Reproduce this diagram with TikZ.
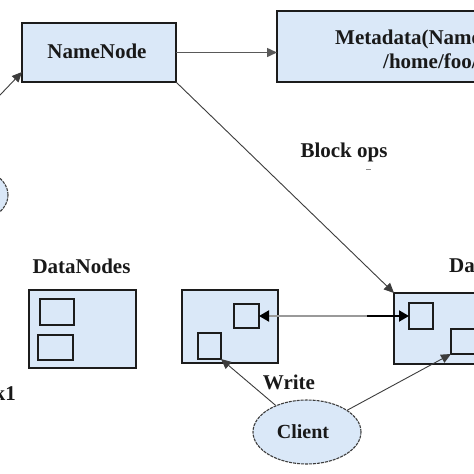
\documentclass[tikz,border=0pt]{standalone}
\usepackage{fontspec}
\setmainfont{Liberation Serif}
\usetikzlibrary{arrows.meta,shapes.geometric}
\definecolor{boxfill}{HTML}{DAE8F8}
\definecolor{edgec}{HTML}{1C1C1C}
\definecolor{linec}{HTML}{3C3C3C}
\tikzset{
  box/.style={draw=edgec, line width=1.6pt, fill=boxfill, inner sep=0pt, outer sep=0pt},
  sq/.style={draw=edgec, line width=1.2pt, fill=boxfill, inner sep=0pt, outer sep=0pt},
  ell/.style={ellipse, draw=linec, line width=1.1pt, dash pattern=on 3pt off 1pt, fill=boxfill, inner sep=0pt, minimum width=108pt, minimum height=64pt},
  lbl/.style={font=\bfseries\fontsize{21}{24}\selectfont, text=black!90, inner sep=0pt},
  conn/.style={draw=linec, line width=0.9pt, -{Triangle[length=10pt,width=9pt]}},
}
\begin{document}
\begin{tikzpicture}[x=1pt,y=-1pt]
\useasboundingbox (0,0) rectangle (474,474);
\fill[white] (0,0) rectangle (474,474);

% NameNode and metadata
\node[box, minimum width=154pt, minimum height=59pt] (nn) at (99,52.5) {};
\node[lbl, anchor=base] (nnt) at (97,58.3) {NameNode};
\node[box, minimum width=283pt, minimum height=71pt] (meta) at (418.5,46.5) {};
\node[lbl, anchor=base west] (meta1) at (335,44) {Metadata(Name, replicas, ...):};
\node[lbl, anchor=base west] (meta2) at (383,68) {/home/foo/data, 3, ...};

% left, cut-off client
\node[ell] (lcl) at (-46,195) {};
\coordinate (lsrc) at (-40,137);
\node[lbl, anchor=base east] (rack) at (16,400) {Rack1};

% labels
\node[lbl, anchor=base] (bops) at (344,157) {Block ops};
\node[lbl, anchor=base] (dn1) at (81.5,273) {DataNodes};
\node[lbl, anchor=base west] (dn2) at (449,272) {DataNodes};
\node[lbl, anchor=base] (wr) at (289,389) {Write};

% datanode boxes
\node[box, minimum width=107pt, minimum height=78pt] (b1) at (82.5,329) {};
\node[sq, minimum width=34pt, minimum height=26pt] (s1a) at (57,312) {};
\node[sq, minimum width=35pt, minimum height=25pt] (s1b) at (55.5,347.5) {};

\node[box, minimum width=96pt, minimum height=73pt] (b2) at (230,326.5) {};
\node[sq, minimum width=25pt, minimum height=24pt] (s2a) at (246.5,316) {};
\node[sq, minimum width=23pt, minimum height=26pt] (s2b) at (209.5,346) {};

\node[box, minimum width=146pt, minimum height=71pt] (b3) at (467,328.5) {};
\node[sq, minimum width=24pt, minimum height=26pt] (s3a) at (421,316) {};
\node[sq, minimum width=69pt, minimum height=25pt] (s3b) at (485.5,341.5) {};

% client
\node[ell] (cl) at (307,432) {};
\node[font=\bfseries\fontsize{20}{24}\selectfont, text=black!90, inner sep=0pt, anchor=base] (clt) at (303,438) {Client};

% connectors
\draw[conn, draw=black!65, line width=1.5pt] (nn.east) -- (nn.east -| meta.west);
\draw[conn] (nn.south east) -- (b3.north west);
\draw[conn] (lsrc) -- ([yshift=10pt]nn.south west);
\coordinate (mid) at (367,316);
\draw[black!40, line width=2pt, {Triangle[length=10pt,width=11pt,black]}-] (s2a.east) -- (mid);
\draw[black, line width=2pt, -{Triangle[length=10pt,width=11pt]}] (mid) -- (s3a.west);
\draw[conn] (cl) -- (s2b.south east);
\draw[conn] (cl) -- (s3b.south west);
\draw[black!45, line width=0.8pt] (366,169) -- (371,169);
\end{tikzpicture}
\end{document}
